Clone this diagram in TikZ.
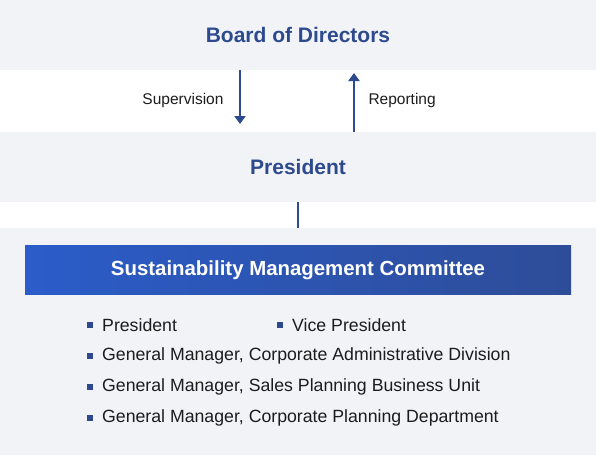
\documentclass[tikz,border=0pt]{standalone}
\usepackage{fontspec}
\setmainfont{Liberation Sans}
\usepackage{tikz}
\usetikzlibrary{arrows.meta}
\definecolor{bandgray}{HTML}{F1F3F7}
\definecolor{navy}{HTML}{2E4A8E}
\definecolor{boxleft}{HTML}{2B5CC9}
\definecolor{boxright}{HTML}{2E4D98}
\definecolor{ink}{HTML}{1C1C1C}
\tikzset{
  band/.style={fill=bandgray, draw=none},
  title/.style={text=navy, font=\fontsize{21}{25}\selectfont\bfseries},
  flowlabel/.style={text=ink, font=\fontsize{15.5}{18}\selectfont},
  member/.style={text=ink, anchor=west, inner sep=0pt, font=\fontsize{17.7}{21}\selectfont},
  dot/.style={fill=navy, minimum size=6pt, inner sep=0pt},
  link/.style={draw=navy, line width=2pt},
  tip/.style={-{Triangle[length=8pt,width=11pt]}},
}
\begin{document}
\begin{tikzpicture}[x=1pt,y=-1pt]
\useasboundingbox (0,0) rectangle (596,455);

% background bands
\fill[band] (0,0) rectangle (596,70);
\fill[band] (0,132) rectangle (596,202);
\fill[band] (0,228) rectangle (596,455);

% board and president
\node[title] (board) at (298,35) {Board of Directors};
\node[title] (pres) at (298,167) {President};

% arrows between them
\coordinate (supTop) at (240,70);
\coordinate (supEnd) at (240,124);
\coordinate (repBot) at (354,132);
\coordinate (repEnd) at (354,73);
\draw[link, tip] (supTop) -- (supEnd);
\draw[link, tip] (repBot) -- (repEnd);
\node[flowlabel, anchor=east] (sup) at (227,100) {Supervision};
\node[flowlabel, anchor=west] (rep) at (365,100) {Reporting};

% committee
\shade[left color=boxleft, right color=boxright] (25,245) rectangle (571,294);
\node[font=\fontsize{20.4}{24}\selectfont\bfseries, text=white] (smc) at (298,270) {Sustainability Management Committee};
\coordinate (presBot) at (298,202);
\coordinate (bandTop) at (298,228);
\draw[link] (presBot) -- (bandTop);

% members
\node[dot] (m1b) at (90,325) {};
\node[member] (m1) at (102,325) {President};
\node[dot] (m2b) at (280,325) {};
\node[member] (m2) at (292,325) {Vice President};
\node[dot] (m3b) at (90,356) {};
\node[member] (m3) at (102,356) {General Manager, Corporate Administrative Division};
\node[dot] (m4b) at (90,387) {};
\node[member] (m4) at (102,387) {General Manager, Sales Planning Business Unit};
\node[dot] (m5b) at (90,418) {};
\node[member] (m5) at (102,418) {General Manager, Corporate Planning Department};

\end{tikzpicture}
\end{document}
